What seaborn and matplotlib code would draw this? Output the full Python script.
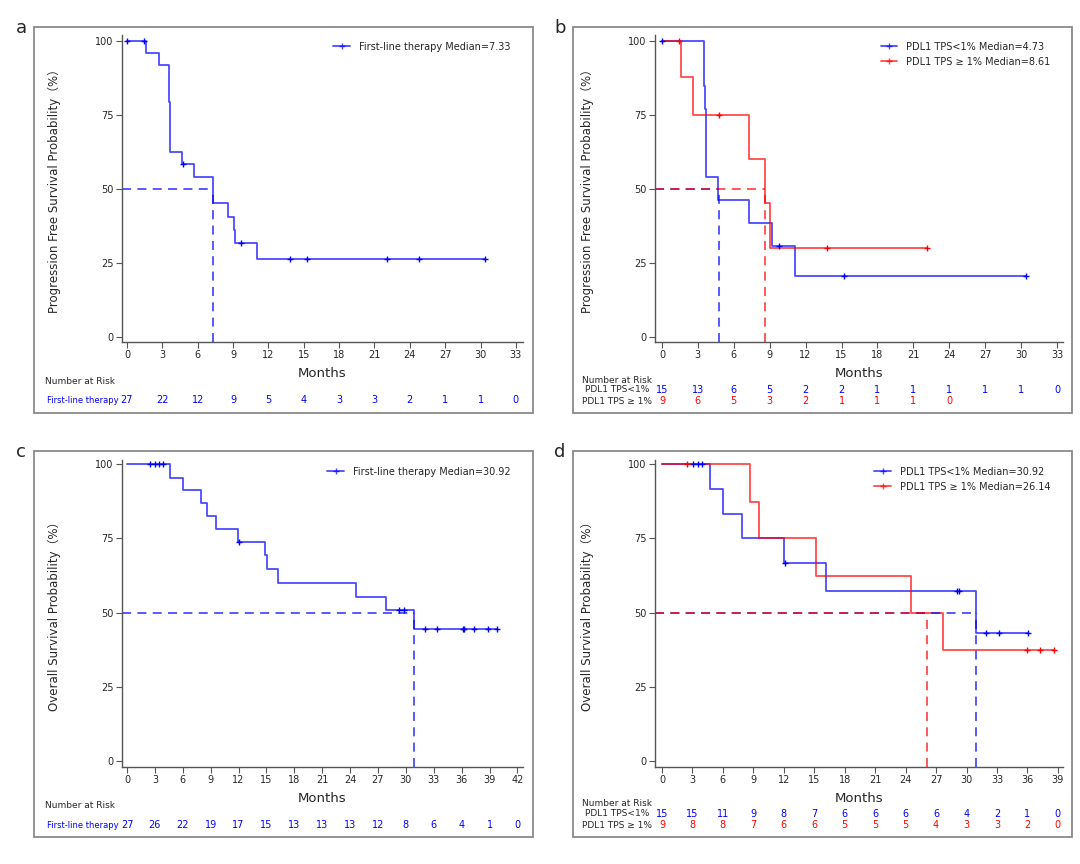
import numpy as np
import pandas as pd
import matplotlib
matplotlib.use("Agg")
import matplotlib.pyplot as plt
import seaborn as sns
from matplotlib.lines import Line2D
from matplotlib.patches import Rectangle
from matplotlib.transforms import blended_transform_factory

# ---- data ----
# a: PFS, first-line therapy
pfs_all_t = [0, 1.59, 2.69, 3.54, 3.58, 3.65, 4.70, 5.72, 7.33, 8.60, 9.06, 9.18, 11.07, 30.4]
pfs_all_s = [100, 95.8, 91.7, 83.3, 79.2, 62.5, 58.3, 54.1, 45.0, 40.5, 36.0, 31.5, 26.2, 26.2]
pfs_all_cens = [0, 1.42, 4.79, 9.7, 13.8, 15.24, 22.1, 24.8, 30.4]
pfs_all_median = 7.33
pfs_all_risk = [27, 22, 12, 9, 5, 4, 3, 3, 2, 1, 1, 0]

# b: PFS by PDL1 TPS
pfs_neg_t = [0, 3.55, 3.63, 3.69, 4.72, 7.29, 9.22, 11.09, 30.4]
pfs_neg_s = [100, 84.8, 76.9, 53.9, 46.1, 38.5, 30.8, 20.6, 20.6]
pfs_neg_cens = [0, 9.75, 15.2, 30.4]
pfs_neg_median = 4.73
pfs_neg_risk = [15, 13, 6, 5, 2, 2, 1, 1, 1, 1, 1, 0]
pfs_pos_t = [0, 1.59, 2.63, 7.29, 8.60, 9.05, 22.15]
pfs_pos_s = [100, 87.7, 75.0, 60.0, 45.1, 30.0, 30.0]
pfs_pos_cens = [1.40, 4.78, 13.8, 22.15]
pfs_pos_median = 8.61
pfs_pos_risk = [9, 6, 5, 3, 2, 1, 1, 1, 0]

# c: OS, first-line therapy
os_all_t = [0, 4.67, 6.01, 7.93, 8.59, 9.53, 11.99, 14.82, 15.10, 16.27, 24.6, 27.83, 30.92, 39.78]
os_all_s = [100, 95.5, 91.2, 86.8, 82.5, 78.0, 73.9, 69.3, 64.7, 60.1, 55.4, 50.8, 44.5, 44.5]
os_all_cens = [2.43, 2.97, 3.48, 3.88, 12.1, 29.28, 29.82, 32.07, 33.37, 36.1, 36.2, 37.35, 38.8, 39.78]
os_all_median = 30.92
os_all_risk = [27, 26, 22, 19, 17, 15, 13, 13, 13, 12, 8, 6, 4, 1, 0]

# d: OS by PDL1 TPS
os_neg_t = [0, 4.72, 5.97, 7.89, 11.98, 16.2, 30.92, 36.07]
os_neg_s = [100, 91.6, 83.2, 75.1, 66.6, 57.2, 43.1, 43.1]
os_neg_cens = [3.07, 3.56, 3.96, 12.1, 29.1, 29.3, 31.95, 33.2, 36.07]
os_neg_median = 30.92
os_neg_risk = [15, 15, 11, 9, 8, 7, 6, 6, 6, 6, 4, 2, 1, 0]
os_pos_t = [0, 8.65, 9.57, 15.15, 24.5, 27.7, 38.6]
os_pos_s = [100, 87.4, 75.1, 62.4, 50.0, 37.5, 37.5]
os_pos_cens = [2.51, 36.0, 37.2, 38.6]
os_pos_median = 26.14
os_pos_risk = [9, 8, 8, 7, 6, 6, 5, 5, 5, 4, 3, 3, 2, 0]

BLUE = "#0000ff"
RED = "#ff0000"
W, H = 1080, 864

sns.set_style("ticks")
plt.rcParams["font.family"] = ["DejaVu Sans", "Noto Sans CJK SC"]

fig = plt.figure(figsize=(W / 100, H / 100), dpi=100)


def px_rect(x0, y0, x1, y1):
    return [x0 / W, 1 - y1 / H, (x1 - x0) / W, (y1 - y0) / H]


def make_axes(box, xlim, ylim, xmax_tick):
    ax = fig.add_axes(px_rect(*box))
    ax.set_xlim(*xlim)
    ax.set_ylim(*ylim)
    ax.set_xticks(np.arange(0, xmax_tick + 1, 3))
    ax.set_yticks([0, 25, 50, 75, 100])
    sns.despine(ax=ax)
    for sp in ["left", "bottom"]:
        ax.spines[sp].set_color("#555555")
        ax.spines[sp].set_linewidth(1.0)
    ax.tick_params(labelsize=7, length=4, width=0.8, color="#555555", pad=2)
    return ax


def draw_curve(ax, t, s, cens, color):
    sns.lineplot(x=t, y=s, drawstyle="steps-post", color=color, alpha=0.7,
                 lw=1.3, ax=ax, legend=False)
    idx = np.searchsorted(t, cens, side="right") - 1
    cy = np.array(s)[idx]
    sns.scatterplot(x=cens, y=cy, marker="+", color=color, s=22,
                    linewidth=1.0, ax=ax, legend=False, zorder=3)


def draw_median(ax, med, color):
    x0, _ = ax.get_xlim()
    y0, _ = ax.get_ylim()
    ax.plot([x0, med], [50, 50], color=color, alpha=0.7, lw=1.3, ls=(0, (5, 3.5)))
    ax.plot([med, med], [y0, 50], color=color, alpha=0.7, lw=1.3, ls=(0, (5, 3.5)))


def frame(x0, y0, x1, y1, letter):
    fig.add_artist(Rectangle((x0 / W, 1 - y1 / H), (x1 - x0) / W, (y1 - y0) / H,
                             transform=fig.transFigure, fill=False,
                             edgecolor="#8a8a8a", lw=1.3))
    fig.text((x0 - 13) / W, 1 - (y0 + 1) / H, letter, fontsize=13,
             ha="center", va="center")


def risk_row(ax, values, y, color):
    tr = blended_transform_factory(ax.transData, ax.transAxes)
    for i, v in enumerate(values):
        ax.text(i * 3, y, str(v), transform=tr, ha="center", va="center",
                fontsize=7, color=color)


def legend(ax, labels, colors, x_right):
    handles = [Line2D([0], [0], color=c, alpha=0.7, lw=1.3, marker="+",
                      markersize=5) for c in colors]
    ax.legend(handles, labels, loc="upper right", bbox_to_anchor=(x_right, 1.0),
              frameon=False, fontsize=7, handlelength=1.7, handletextpad=0.9,
              labelspacing=0.5, borderpad=0.2)


pfs_label = "Progression Free Survival Probability（%）"
os_label = "Overall Survival Probability（%）"
LPAD = 25

# ---- panel a ----
frame(34, 27, 533, 413, "a")
ax = make_axes((122, 35, 523, 342), (-0.42, 33.6), (-1.8, 101.9), 33)
draw_curve(ax, pfs_all_t, pfs_all_s, pfs_all_cens, BLUE)
draw_median(ax, pfs_all_median, BLUE)
legend(ax, [f"First-line therapy Median={pfs_all_median:.2f}"], [BLUE], 0.985)
ax.set_xlabel("Months", fontsize=9.5, labelpad=5)
ax.set_ylabel(pfs_label, fontsize=8.5, labelpad=LPAD)
fig.text(45 / W, 1 - 381 / H, "Number at Risk", fontsize=6.5, va="center")
fig.text(47 / W, 1 - 400 / H, "First-line therapy", fontsize=6, va="center", color=BLUE)
risk_row(ax, pfs_all_risk, -0.189, BLUE)

# ---- panel b ----
frame(573, 27, 1072, 413, "b")
ax = make_axes((655, 35, 1063, 342), (-0.58, 33.5), (-1.7, 101.9), 33)
draw_curve(ax, pfs_neg_t, pfs_neg_s, pfs_neg_cens, BLUE)
draw_curve(ax, pfs_pos_t, pfs_pos_s, pfs_pos_cens, RED)
draw_median(ax, pfs_neg_median, BLUE)
draw_median(ax, pfs_pos_median, RED)
legend(ax, [f"PDL1 TPS<1% Median={pfs_neg_median:.2f}",
            f"PDL1 TPS ≥ 1% Median={pfs_pos_median:.2f}"], [BLUE, RED], 0.985)
ax.set_xlabel("Months", fontsize=9.5, labelpad=5)
ax.set_ylabel(pfs_label, fontsize=8.5, labelpad=LPAD)
fig.text(617 / W, 1 - 380 / H, "Number at Risk", fontsize=6.5, va="center", ha="center")
fig.text(617 / W, 1 - 390 / H, "PDL1 TPS<1%", fontsize=6.5, va="center", ha="center")
fig.text(617 / W, 1 - 401 / H, "PDL1 TPS ≥ 1%", fontsize=6.5, va="center", ha="center")
risk_row(ax, pfs_neg_risk, -0.156, BLUE)
risk_row(ax, pfs_pos_risk, -0.192, RED)

# ---- panel c ----
frame(34, 451, 533, 837, "c")
ax = make_axes((122, 460, 523, 767), (-0.54, 42.6), (-2.0, 101.4), 42)
draw_curve(ax, os_all_t, os_all_s, os_all_cens, BLUE)
draw_median(ax, os_all_median, BLUE)
legend(ax, [f"First-line therapy Median={os_all_median:.2f}"], [BLUE], 0.985)
ax.set_xlabel("Months", fontsize=9.5, labelpad=5)
ax.set_ylabel(os_label, fontsize=8.5, labelpad=LPAD)
fig.text(45 / W, 1 - 805 / H, "Number at Risk", fontsize=6.5, va="center")
fig.text(47 / W, 1 - 825 / H, "First-line therapy", fontsize=6, va="center", color=BLUE)
risk_row(ax, os_all_risk, -0.189, BLUE)

# ---- panel d ----
frame(573, 451, 1072, 837, "d")
ax = make_axes((655, 460, 1063, 767), (-0.69, 39.5), (-2.0, 101.4), 39)
draw_curve(ax, os_neg_t, os_neg_s, os_neg_cens, BLUE)
draw_curve(ax, os_pos_t, os_pos_s, os_pos_cens, RED)
draw_median(ax, os_neg_median, BLUE)
draw_median(ax, os_pos_median, RED)
legend(ax, [f"PDL1 TPS<1% Median={os_neg_median:.2f}",
            f"PDL1 TPS ≥ 1% Median={os_pos_median:.2f}"], [BLUE, RED], 0.985)
ax.set_xlabel("Months", fontsize=9.5, labelpad=5)
ax.set_ylabel(os_label, fontsize=8.5, labelpad=LPAD)
fig.text(617 / W, 1 - 804 / H, "Number at Risk", fontsize=6.5, va="center", ha="center")
fig.text(617 / W, 1 - 814 / H, "PDL1 TPS<1%", fontsize=6.5, va="center", ha="center")
fig.text(617 / W, 1 - 825 / H, "PDL1 TPS ≥ 1%", fontsize=6.5, va="center", ha="center")
risk_row(ax, os_neg_risk, -0.153, BLUE)
risk_row(ax, os_pos_risk, -0.189, RED)

fig.savefig("out.png", dpi=100)
